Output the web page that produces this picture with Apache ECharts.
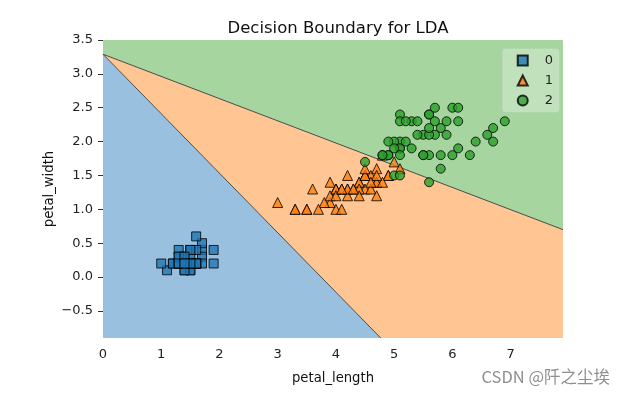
<!DOCTYPE html>
<html><head><meta charset="utf-8">
<script src="https://cdn.jsdelivr.net/npm/echarts@6/dist/echarts.min.js"></script>
<style>html,body{margin:0;padding:0;background:#fff}#c{width:625px;height:393px}</style>
</head><body><div id="c"></div>
<script>
// class 0 (setosa) petal length / width
const len0 = [1.4,1.4,1.3,1.5,1.4,1.7,1.4,1.5,1.4,1.5,1.5,1.6,1.4,1.1,1.2,1.5,1.3,1.4,1.7,1.5,1.7,1.5,1.0,1.7,1.9,1.6,1.6,1.5,1.4,1.6,1.6,1.5,1.5,1.4,1.5,1.2,1.3,1.4,1.3,1.5,1.3,1.3,1.3,1.6,1.9,1.4,1.6,1.4,1.5,1.4];
const wid0 = [0.2,0.2,0.2,0.2,0.2,0.4,0.3,0.2,0.2,0.1,0.2,0.2,0.1,0.1,0.2,0.4,0.4,0.3,0.3,0.3,0.2,0.4,0.2,0.5,0.2,0.2,0.4,0.2,0.2,0.2,0.2,0.4,0.1,0.2,0.2,0.2,0.2,0.1,0.2,0.2,0.3,0.3,0.2,0.6,0.4,0.3,0.2,0.2,0.2,0.2];
// class 1 (versicolor)
const len1 = [4.7,4.5,4.9,4.0,4.6,4.5,4.7,3.3,4.6,3.9,3.5,4.2,4.0,4.7,3.6,4.4,4.5,4.1,4.5,3.9,4.8,4.0,4.9,4.7,4.3,4.4,4.8,5.0,4.5,3.5,3.8,3.7,3.9,5.1,4.5,4.5,4.7,4.4,4.1,4.0,4.4,4.6,4.0,3.3,4.2,4.2,4.2,4.3,3.0,4.1];
const wid1 = [1.4,1.5,1.5,1.3,1.5,1.3,1.6,1.0,1.3,1.4,1.0,1.5,1.0,1.4,1.3,1.4,1.5,1.0,1.5,1.1,1.8,1.3,1.5,1.2,1.3,1.4,1.4,1.7,1.5,1.0,1.1,1.0,1.2,1.6,1.5,1.6,1.5,1.3,1.3,1.3,1.2,1.4,1.2,1.0,1.3,1.2,1.3,1.3,1.1,1.3];
// class 2 (virginica)
const len2 = [6.0,5.1,5.9,5.6,5.8,6.6,4.5,6.3,5.8,6.1,5.1,5.3,5.5,5.0,5.1,5.3,5.5,6.7,6.9,5.0,5.7,4.9,6.7,4.9,5.7,6.0,4.8,4.9,5.6,5.8,6.1,6.4,5.6,5.1,5.6,6.1,5.6,5.5,4.8,5.4,5.6,5.1,5.1,5.9,5.7,5.2,5.0,5.2,5.4,5.1];
const wid2 = [2.5,1.9,2.1,1.8,2.2,2.1,1.7,1.8,1.8,2.5,2.0,1.9,2.1,2.0,2.4,2.3,1.8,2.2,2.3,1.5,2.3,2.0,2.0,1.8,2.1,1.8,1.8,1.8,2.1,1.6,1.9,2.0,2.2,1.5,1.4,2.3,2.4,1.8,1.8,2.1,2.4,2.3,1.9,2.3,2.5,2.3,1.9,2.0,2.3,1.8];

const classNames = ['0','1','2'];
const xTicks = [0,1,2,3,4,5,6,7];
const yTicks = [-0.5,0.0,0.5,1.0,1.5,2.0,2.5,3.0,3.5];
const xRange = [0, 7.9];
const yRange = [-0.9, 3.5];

// decision region polygons (data coordinates)
const region0 = [[0,-0.9],[0,3.29],[4.77,-0.9]];
const region1 = [[0,3.29],[7.9,0.70],[7.9,-0.9],[4.77,-0.9]];
const region2 = [[0,3.5],[7.9,3.5],[7.9,0.70],[0,3.29]];
// boundary lines
const boundary01 = [[0,3.29],[4.77,-0.9]];
const boundary12 = [[0,3.29],[7.9,0.70]];

const zip = (a,b)=>a.map((v,i)=>[v,b[i]]);
const regionColors = ['#99c0de','#ffc592','#a6d5a0'];
const pointColors = ['#1f77b4','#ff7f0e','#2ca02c'];
const symbols = ['rect','triangle','circle'];

function regionSeries(poly, color){
  return {
    type:'custom', silent:true, z:1, clip:true,
    data:[0],
    renderItem:(params, api)=>({
      type:'polygon',
      shape:{points: poly.map(p=>api.coord(p))},
      style:{fill:color, stroke:null}
    })
  };
}
function lineSeries(pts){
  return {type:'line', data:pts, symbol:'none', silent:true, z:2,
    lineStyle:{color:'#4a4a4a', width:1}};
}
const yfmt = v => v.toFixed(1).replace('-','\u2212');

const chart = echarts.init(document.getElementById('c'), null, {renderer:'canvas'});
chart.setOption({
  animation:false,
  textStyle:{fontFamily:'DejaVu Sans'},
  title:{text:'Decision Boundary for LDA', left:333, top:15, textAlign:'center',
    textStyle:{fontSize:16.5, fontWeight:'normal', color:'#111', fontFamily:'DejaVu Sans'}},
  grid:{left:103, right:62, top:40, bottom:55},
  xAxis:{type:'value', min:xRange[0], max:xRange[1],
    name:'petal_length', nameLocation:'middle', nameGap:34,
    nameTextStyle:{fontSize:13.2, color:'#111', fontFamily:'DejaVu Sans'},
    axisLine:{show:false}, splitLine:{show:false},
    axisTick:{show:true, length:5, lineStyle:{color:'#333'}, customValues:xTicks},
    axisLabel:{fontSize:13, color:'#222', margin:10, customValues:xTicks, formatter:v=>String(v), fontFamily:'DejaVu Sans'}},
  yAxis:{type:'value', min:yRange[0], max:yRange[1],
    name:'petal_width', nameLocation:'middle', nameGap:47, nameRotate:90, nameMoveOverlap:false,
    nameTextStyle:{fontSize:13.2, color:'#111', fontFamily:'DejaVu Sans'},
    axisLine:{show:false}, splitLine:{show:false},
    axisTick:{show:true, length:5, lineStyle:{color:'#333'}, customValues:yTicks},
    axisLabel:{fontSize:13, color:'#222', margin:10, customValues:yTicks, formatter:yfmt, fontFamily:'DejaVu Sans'}},
  legend:{orient:'vertical', right:66, top:49, itemWidth:10, itemHeight:10, itemGap:7,
    data:classNames, padding:[5,6,5,14],
    backgroundColor:'rgba(255,255,255,0.3)', borderColor:'rgba(220,220,220,0.4)', borderWidth:1, borderRadius:3,
    textStyle:{fontSize:13, color:'#222', padding:[0,0,0,12], fontFamily:'DejaVu Sans'}},
  graphic:[{type:'text', right:15, top:368, style:{text:'CSDN @阡之尘埃', fill:'#8f8f8f', font:'16.5px "Noto Sans CJK SC"'}}],
  series:[
    regionSeries(region0, regionColors[0]),
    regionSeries(region1, regionColors[1]),
    regionSeries(region2, regionColors[2]),
    lineSeries(boundary01),
    lineSeries(boundary12),
    ...[[len0,wid0],[len1,wid1],[len2,wid2]].map((d,i)=>({
      type:'scatter', name:classNames[i], data:zip(d[0],d[1]), z:3,
      symbol:symbols[i], symbolSize: i===1?10:9,
      itemStyle:{color:pointColors[i], opacity:0.8, borderColor:'#000', borderWidth:1}
    }))
  ]
});
</script></body></html>
